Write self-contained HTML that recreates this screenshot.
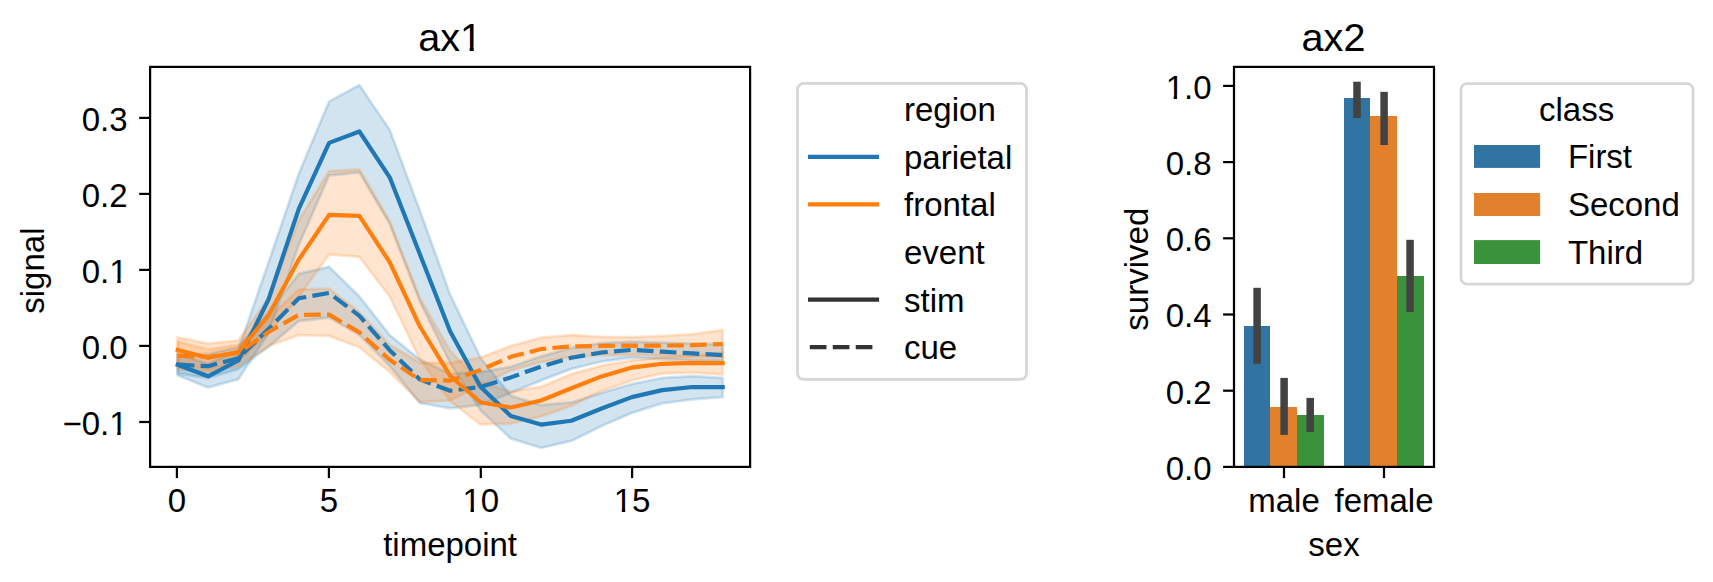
<!DOCTYPE html>
<html lang="en"><head><meta charset="utf-8"><title>ax1 / ax2</title>
<style>html,body{margin:0;padding:0;background:#fff}svg{display:block}</style></head>
<body>
<svg width="1713" height="582" viewBox="0 0 1713 582" font-family="'Liberation Sans', Arial, sans-serif" font-size="33.0" fill="#000">
<defs><clipPath id="k1"><path clip-rule="evenodd" d="M0 0H1713V582H0ZM461.78 46.34h7.93v5.26h-7.93ZM473.71 46.34h7.73v5.26h-7.73Z"/></clipPath><clipPath id="k2"><path clip-rule="evenodd" d="M0 0H1713V582H0ZM110.74 278.76h6.56v4.77h-6.56ZM120.72 278.76h6.44v4.77h-6.44Z"/></clipPath><clipPath id="k3"><path clip-rule="evenodd" d="M0 0H1713V582H0ZM110.74 430.80h6.56v4.77h-6.56ZM120.72 430.80h6.44v4.77h-6.44Z"/></clipPath><clipPath id="k4"><path clip-rule="evenodd" d="M0 0H1713V582H0ZM463.94 508.43h6.56v4.77h-6.56ZM473.92 508.43h6.44v4.77h-6.44Z"/></clipPath><clipPath id="k5"><path clip-rule="evenodd" d="M0 0H1713V582H0ZM615.24 508.43h6.56v4.77h-6.56ZM625.22 508.43h6.44v4.77h-6.44Z"/></clipPath><clipPath id="k6"><path clip-rule="evenodd" d="M0 0H1713V582H0ZM1167.12 94.78h6.56v4.77h-6.56ZM1177.09 94.78h6.44v4.77h-6.44Z"/></clipPath></defs>
<rect width="1713" height="582" fill="#fff"/>
<g>
<polygon points="177.7,354.0 208.0,364.0 238.3,350.0 268.5,262.5 298.8,173.8 329.1,101.4 359.4,85.1 389.7,129.8 419.9,210.7 450.2,294.8 480.5,357.8 510.8,395.7 541.1,405.0 571.3,402.4 601.6,392.8 631.9,384.0 662.2,377.9 692.5,376.1 722.7,377.9 722.7,397.1 692.5,399.4 662.2,403.3 631.9,412.9 601.6,426.0 571.3,440.9 541.1,447.9 510.8,438.6 480.5,410.3 450.2,363.0 419.9,301.8 389.7,224.0 359.4,172.4 329.1,175.5 298.8,245.0 268.5,333.0 238.3,379.2 208.0,387.5 177.7,375.4" fill="#1f77b4" fill-opacity=".2" stroke="#1f77b4" stroke-opacity=".2" stroke-width="2.78" stroke-linejoin="miter"/>
<polygon points="177.7,355.0 208.0,354.0 238.3,347.0 268.5,312.0 298.8,273.8 329.1,266.8 359.4,296.5 389.7,335.1 419.9,359.6 450.2,374.0 480.5,372.0 510.8,366.8 541.1,356.3 571.3,347.9 601.6,343.1 631.9,341.6 662.2,342.6 692.5,343.6 722.7,344.2 722.7,361.0 692.5,360.5 662.2,359.0 631.9,357.5 601.6,361.5 571.3,368.9 541.1,380.4 510.8,393.0 480.5,404.8 450.2,408.3 419.9,403.0 389.7,366.0 359.4,335.1 329.1,317.5 298.8,321.0 268.5,347.0 238.3,369.0 208.0,378.0 177.7,373.6" fill="#1f77b4" fill-opacity=".2" stroke="#1f77b4" stroke-opacity=".2" stroke-width="2.78" stroke-linejoin="miter"/>
<polygon points="177.7,337.3 208.0,343.6 238.3,340.5 268.5,298.0 298.8,220.2 329.1,171.1 359.4,169.4 389.7,221.0 419.9,298.0 450.2,351.0 480.5,382.0 510.8,391.5 541.1,386.7 571.3,374.1 601.6,365.7 631.9,360.5 662.2,357.3 692.5,355.7 722.7,352.5 722.7,374.4 692.5,372.6 662.2,373.5 631.9,380.5 601.6,391.0 571.3,405.9 541.1,416.4 510.8,423.5 480.5,424.5 450.2,401.0 419.9,359.6 389.7,296.5 359.4,256.9 329.1,254.3 298.8,297.0 268.5,333.0 238.3,362.0 208.0,370.0 177.7,362.0" fill="#ff7f0e" fill-opacity=".2" stroke="#ff7f0e" stroke-opacity=".2" stroke-width="2.78" stroke-linejoin="miter"/>
<polygon points="177.7,341.5 208.0,349.4 238.3,344.7 268.5,318.0 298.8,289.5 329.1,288.6 359.4,312.3 389.7,345.0 419.9,362.8 450.2,362.8 480.5,357.6 510.8,345.9 541.1,337.7 571.3,335.0 601.6,336.8 631.9,337.1 662.2,335.9 692.5,334.2 722.7,330.1 722.7,356.8 692.5,356.3 662.2,355.5 631.9,354.8 601.6,355.2 571.3,356.8 541.1,362.0 510.8,370.5 480.5,385.0 450.2,400.4 419.9,402.0 389.7,372.0 359.4,347.3 329.1,335.9 298.8,335.1 268.5,346.0 238.3,366.0 208.0,372.0 177.7,369.0" fill="#ff7f0e" fill-opacity=".2" stroke="#ff7f0e" stroke-opacity=".2" stroke-width="2.78" stroke-linejoin="miter"/>
<polyline points="177.7,364.7 208.0,376.3 238.3,360.5 268.5,299.5 298.8,208.8 329.1,142.9 359.4,131.5 389.7,177.3 419.9,254.3 450.2,331.5 480.5,386.7 510.8,416.0 541.1,424.6 571.3,420.8 601.6,408.5 631.9,397.1 662.2,390.1 692.5,387.0 722.7,387.1" fill="none" stroke="#1f77b4" stroke-width="4.17" stroke-linecap="square" stroke-linejoin="round"/>
<polyline points="177.7,364.6 208.0,366.2 238.3,358.3 268.5,329.0 298.8,298.3 329.1,293.0 359.4,315.8 389.7,350.2 419.9,379.4 450.2,390.8 480.5,387.0 510.8,377.4 541.1,366.5 571.3,357.8 601.6,352.5 631.9,349.9 662.2,351.7 692.5,353.4 722.7,355.2" fill="none" stroke="#1f77b4" stroke-width="4.17" stroke-dasharray="16.7 6.25" stroke-linejoin="round"/>
<polyline points="177.7,349.9 208.0,357.8 238.3,352.0 268.5,315.3 298.8,259.6 329.1,214.9 359.4,215.8 389.7,262.2 419.9,326.5 450.2,375.9 480.5,402.3 510.8,407.5 541.1,400.5 571.3,388.2 601.6,376.4 631.9,367.6 662.2,363.8 692.5,362.9 722.7,363.1" fill="none" stroke="#ff7f0e" stroke-width="4.17" stroke-linecap="square" stroke-linejoin="round"/>
<polyline points="177.7,355.7 208.0,357.0 238.3,353.0 268.5,332.0 298.8,314.9 329.1,314.6 359.4,332.4 389.7,359.8 419.9,379.9 450.2,380.6 480.5,369.9 510.8,356.8 541.1,349.0 571.3,346.4 601.6,345.9 631.9,345.6 662.2,345.6 692.5,345.2 722.7,344.0" fill="none" stroke="#ff7f0e" stroke-width="4.17" stroke-dasharray="16.7 6.25" stroke-linejoin="round"/>
</g>
<rect x="150.1" y="66.9" width="600.0" height="400.0" fill="none" stroke="#000" stroke-width="2.22" stroke-linejoin="miter"/>
<line x1="176.9" y1="466.9" x2="176.9" y2="478.1" stroke="#000" stroke-width="2.22"/>
<text x="176.9" y="512.4" text-anchor="middle">0</text>
<line x1="328.9" y1="466.9" x2="328.9" y2="478.1" stroke="#000" stroke-width="2.22"/>
<text x="328.9" y="512.4" text-anchor="middle">5</text>
<line x1="480.8" y1="466.9" x2="480.8" y2="478.1" stroke="#000" stroke-width="2.22"/>
<text clip-path="url(#k4)" x="480.8" y="512.4" text-anchor="middle">10</text>
<line x1="632.1" y1="466.9" x2="632.1" y2="478.1" stroke="#000" stroke-width="2.22"/>
<text clip-path="url(#k5)" x="632.1" y="512.4" text-anchor="middle">15</text>
<line x1="150.1" y1="422.0" x2="139.2" y2="422.0" stroke="#000" stroke-width="2.22"/>
<text clip-path="url(#k3)" x="127.6" y="434.8" text-anchor="end">−0.1</text>
<line x1="150.1" y1="345.9" x2="139.2" y2="345.9" stroke="#000" stroke-width="2.22"/>
<text x="127.6" y="358.8" text-anchor="end">0.0</text>
<line x1="150.1" y1="269.9" x2="139.2" y2="269.9" stroke="#000" stroke-width="2.22"/>
<text clip-path="url(#k2)" x="127.6" y="282.7" text-anchor="end">0.1</text>
<line x1="150.1" y1="193.9" x2="139.2" y2="193.9" stroke="#000" stroke-width="2.22"/>
<text x="127.6" y="206.7" text-anchor="end">0.2</text>
<line x1="150.1" y1="117.9" x2="139.2" y2="117.9" stroke="#000" stroke-width="2.22"/>
<text x="127.6" y="130.7" text-anchor="end">0.3</text>
<text clip-path="url(#k1)" x="450.1" y="50.8" text-anchor="middle" font-size="39.6">ax1</text>
<text x="450.1" y="555.9" text-anchor="middle">timepoint</text>
<text transform="translate(43.8,270.6) rotate(-90)" text-anchor="middle">signal</text>
<rect x="797.5" y="83.4" width="229.0" height="296.0" rx="6.1" fill="#fff" fill-opacity=".8" stroke="#ccc" stroke-opacity=".8" stroke-width="2.78"/>
<text x="904.0" y="121.1">region</text>
<line x1="808.0" y1="156.8" x2="879.1" y2="156.8" stroke="#1f77b4" stroke-width="4.17"/>
<text x="904.0" y="168.7">parietal</text>
<line x1="808.0" y1="204.4" x2="879.1" y2="204.4" stroke="#ff7f0e" stroke-width="4.17"/>
<text x="904.0" y="216.3">frontal</text>
<text x="904.0" y="263.9">event</text>
<line x1="808.0" y1="299.6" x2="879.1" y2="299.6" stroke="#333" stroke-width="4.17"/>
<text x="904.0" y="311.5">stim</text>
<line x1="809.8" y1="347.2" x2="877" y2="347.2" stroke="#333" stroke-width="4.17" stroke-dasharray="16.7 6.25"/>
<text x="904.0" y="359.1">cue</text>
<rect x="1244" y="326" width="26" height="141" fill="#3274a1" shape-rendering="crispEdges"/>
<rect x="1270" y="407" width="27" height="60" fill="#e1812c" shape-rendering="crispEdges"/>
<rect x="1297" y="415" width="27" height="52" fill="#3a923a" shape-rendering="crispEdges"/>
<rect x="1344" y="98" width="26" height="369" fill="#3274a1" shape-rendering="crispEdges"/>
<rect x="1370" y="116" width="27" height="351" fill="#e1812c" shape-rendering="crispEdges"/>
<rect x="1397" y="276" width="27" height="191" fill="#3a923a" shape-rendering="crispEdges"/>
<rect x="1253.35" y="287.8" width="7.5" height="76.0" fill="#424242"/>
<rect x="1280.35" y="377.9" width="7.5" height="57.0" fill="#424242"/>
<rect x="1306.45" y="397.9" width="7.5" height="34.0" fill="#424242"/>
<rect x="1353.25" y="81.7" width="7.5" height="36.3" fill="#424242"/>
<rect x="1380.35" y="91.8" width="7.5" height="53.2" fill="#424242"/>
<rect x="1406.30" y="239.8" width="7.5" height="72.2" fill="#424242"/>
<rect x="1234.0" y="66.9" width="200.0" height="400.0" fill="none" stroke="#000" stroke-width="2.22" stroke-linejoin="miter"/>
<line x1="1284.0" y1="466.9" x2="1284.0" y2="478.1" stroke="#000" stroke-width="2.22"/>
<text x="1284.0" y="512.4" text-anchor="middle">male</text>
<line x1="1384.0" y1="466.9" x2="1384.0" y2="478.1" stroke="#000" stroke-width="2.22"/>
<text x="1384.0" y="512.4" text-anchor="middle">female</text>
<line x1="1234.0" y1="466.9" x2="1223.1" y2="466.9" stroke="#000" stroke-width="2.22"/>
<text x="1211.5" y="479.7" text-anchor="end">0.0</text>
<line x1="1234.0" y1="390.7" x2="1223.1" y2="390.7" stroke="#000" stroke-width="2.22"/>
<text x="1211.5" y="403.5" text-anchor="end">0.2</text>
<line x1="1234.0" y1="314.5" x2="1223.1" y2="314.5" stroke="#000" stroke-width="2.22"/>
<text x="1211.5" y="327.3" text-anchor="end">0.4</text>
<line x1="1234.0" y1="238.3" x2="1223.1" y2="238.3" stroke="#000" stroke-width="2.22"/>
<text x="1211.5" y="251.1" text-anchor="end">0.6</text>
<line x1="1234.0" y1="162.1" x2="1223.1" y2="162.1" stroke="#000" stroke-width="2.22"/>
<text x="1211.5" y="174.9" text-anchor="end">0.8</text>
<line x1="1234.0" y1="85.9" x2="1223.1" y2="85.9" stroke="#000" stroke-width="2.22"/>
<text clip-path="url(#k6)" x="1211.5" y="98.7" text-anchor="end">1.0</text>
<text x="1333.5" y="50.8" text-anchor="middle" font-size="39.6">ax2</text>
<text x="1334" y="555.9" text-anchor="middle">sex</text>
<text transform="translate(1147.8,269.2) rotate(-90)" text-anchor="middle">survived</text>
<rect x="1461.0" y="83.6" width="232.1" height="200.5" rx="6.1" fill="#fff" fill-opacity=".8" stroke="#ccc" stroke-opacity=".8" stroke-width="2.78"/>
<text x="1576.6" y="120.8" text-anchor="middle">class</text>
<rect x="1474" y="145.0" width="66.1" height="22.9" fill="#3274a1"/>
<text x="1567.9" y="168.3">First</text>
<rect x="1474" y="193.0" width="66.1" height="23.0" fill="#e1812c"/>
<text x="1567.9" y="216.4">Second</text>
<rect x="1474" y="240.1" width="66.1" height="23.9" fill="#3a923a"/>
<text x="1567.9" y="263.9">Third</text>
</svg>
</body></html>
